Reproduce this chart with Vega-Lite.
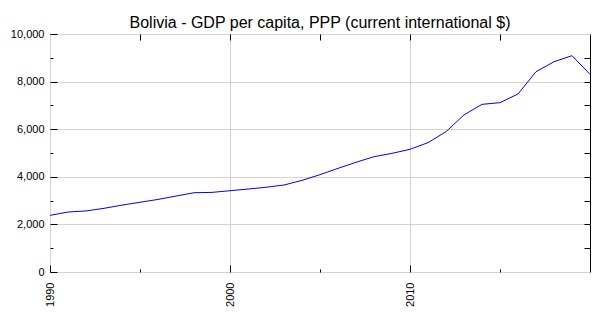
{
  "$schema": "https://vega.github.io/schema/vega-lite/v6.json",
  "width": 540,
  "height": 238,
  "autosize": {"type": "none"},
  "padding": {"left": 50, "top": 34, "right": 10, "bottom": 43},
  "background": "white",
  "title": {"text": "Bolivia - GDP per capita, PPP (current international $)", "font": "Liberation Sans", "fontSize": 16, "fontWeight": "normal", "color": "#000", "anchor": "middle", "frame": "group", "offset": -3},
  "config": {
    "view": {"stroke": "#000", "strokeWidth": 1},
    "axis": {"domain": false, "labelFont": "Liberation Sans", "labelFontSize": 11, "labelColor": "#000", "tickColor": "#000", "tickWidth": 1, "gridColor": "#d3d3d3", "gridWidth": 1, "title": null}
  },
  "data": {"values": [
    {"year": 1990, "gdp": 2380}, {"year": 1991, "gdp": 2520}, {"year": 1992, "gdp": 2565}, {"year": 1993, "gdp": 2675},
    {"year": 1994, "gdp": 2810}, {"year": 1995, "gdp": 2930}, {"year": 1996, "gdp": 3050}, {"year": 1997, "gdp": 3190},
    {"year": 1998, "gdp": 3330}, {"year": 1999, "gdp": 3345}, {"year": 2000, "gdp": 3415}, {"year": 2001, "gdp": 3485},
    {"year": 2002, "gdp": 3560}, {"year": 2003, "gdp": 3655}, {"year": 2004, "gdp": 3850}, {"year": 2005, "gdp": 4090},
    {"year": 2006, "gdp": 4355}, {"year": 2007, "gdp": 4610}, {"year": 2008, "gdp": 4845}, {"year": 2009, "gdp": 4985},
    {"year": 2010, "gdp": 5155}, {"year": 2011, "gdp": 5435}, {"year": 2012, "gdp": 5895}, {"year": 2013, "gdp": 6600},
    {"year": 2014, "gdp": 7045}, {"year": 2015, "gdp": 7115}, {"year": 2016, "gdp": 7480}, {"year": 2017, "gdp": 8415},
    {"year": 2018, "gdp": 8835}, {"year": 2019, "gdp": 9090}, {"year": 2020, "gdp": 8305}
  ]},
  "layer": [
    {
      "mark": {"type": "line", "color": "#0000ff", "strokeWidth": 1},
      "encoding": {
        "x": {"field": "year", "type": "quantitative", "scale": {"domain": [1990, 2020], "nice": false, "zero": false},
          "axis": {"orient": "bottom", "values": [1990, 1995, 2000, 2005, 2010, 2015], "format": "d",
            "labelExpr": "datum.value % 10 === 0 ? datum.label : ''", "labelAngle": -90, "labelPadding": 17,
            "tickSize": {"condition": {"test": "datum.value % 10 === 0", "value": -7}, "value": -3},
            "gridOpacity": {"condition": {"test": "datum.value % 10 === 0", "value": 1}, "value": 0}}},
        "y": {"field": "gdp", "type": "quantitative", "scale": {"domain": [0, 10000], "nice": false},
          "axis": {"orient": "left", "values": [0, 1000, 2000, 3000, 4000, 5000, 6000, 7000, 8000, 9000, 10000], "format": ",d",
            "labelExpr": "datum.value % 2000 === 0 ? datum.label : ''", "labelPadding": 13,
            "tickSize": {"condition": {"test": "datum.value % 2000 === 0", "value": -7}, "value": -3},
            "gridOpacity": {"condition": {"test": "datum.value % 2000 === 0", "value": 1}, "value": 0}}}
      }
    },
    {
      "mark": {"type": "line", "opacity": 0},
      "encoding": {
        "x": {"field": "year", "type": "quantitative",
          "axis": {"orient": "top", "values": [1995, 2000, 2005, 2010, 2015], "labels": false, "grid": false, "tickSize": -6}},
        "y": {"field": "gdp", "type": "quantitative",
          "axis": {"orient": "right", "values": [1000, 2000, 3000, 4000, 5000, 6000, 7000, 8000, 9000], "labels": false, "grid": false, "tickSize": -6}}
      }
    }
  ],
  "resolve": {"axis": {"x": "independent", "y": "independent"}}
}
